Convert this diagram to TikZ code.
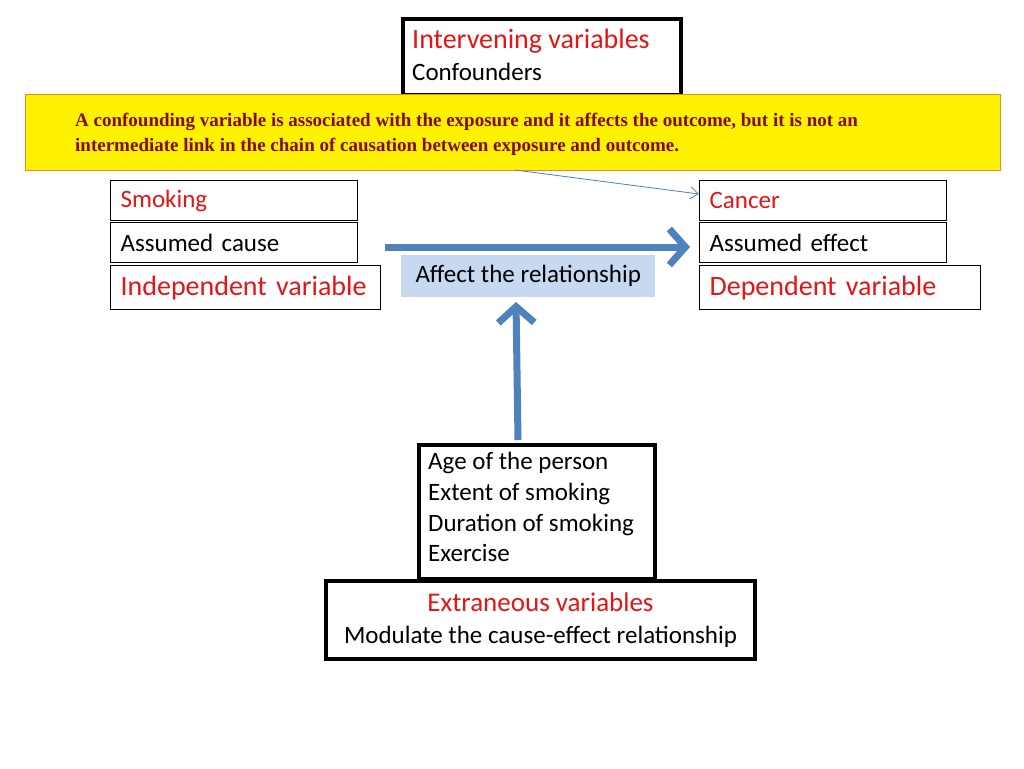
\documentclass[tikz,border=0pt]{standalone}
\usepackage{fontspec}
\setmainfont{Carlito}
\newfontfamily\serifb{Liberation Serif}
\usetikzlibrary{arrows.meta}
\definecolor{myred}{RGB}{230,20,20}
\definecolor{myblue}{RGB}{79,129,189}
\definecolor{lightblue}{RGB}{198,217,241}
\definecolor{darkred}{RGB}{130,10,10}
\tikzset{
 thinbox/.style={draw=black,line width=1.2pt,minimum height=40pt,inner sep=0pt,text width=#1-20pt,align=left,minimum width=#1,anchor=north west,font=\fontsize{25}{28}\selectfont},
 thickbox/.style={draw=black,line width=4pt},
 bigarrow/.style={myblue,line width=7pt,-{Straight Barb[length=16pt,width=36pt,line width=7pt]}},
}
\begin{document}
\begin{tikzpicture}[x=1pt,y=-1pt]
\useasboundingbox[fill=white] (0,0) rectangle (1024,768);
% top box
\node[thickbox,minimum width=278pt,minimum height=76pt,anchor=north west] (top) at (401,17) {};
\node[anchor=west,text=myred,font=\fontsize{28}{30}\selectfont,inner sep=0pt] (iv) at (412,41) {Intervening variables};
\node[anchor=west,font=\fontsize{25}{28}\selectfont,inner sep=0pt] (conf) at (412,72) {Confounders};
% banner
\node[draw={rgb,255:red,230;green,140;blue,40},line width=1pt,fill=yellow,minimum width=975pt,minimum height=76pt,anchor=north west] (banner) at (25,94) {};
\node[anchor=north west,text=darkred,font=\serifb\bfseries\fontsize{19}{25}\selectfont,align=left,inner sep=0pt] (btxt) at (75,113) {A confounding variable is associated with the exposure and it affects the outcome, but it is not an\\intermediate link in the chain of causation between exposure and outcome.};
% left boxes
\node[thinbox=247pt] (smk) at (110,180) {\textcolor{myred}{Smoking}};
\node[thinbox=247pt] (ac) at (110,222) {Assumed cause};
\node[thinbox=270pt,minimum height=44pt,font=\fontsize{28}{30}\selectfont] (indep) at (110,265) {\textcolor{myred}{Independent variable}};
% right boxes
\node[thinbox=247pt] (cancer) at (699,180) {\textcolor{myred}{Cancer}};
\node[thinbox=247pt] (ae) at (699,222) {Assumed effect};
\node[thinbox=281pt,minimum height=44pt,font=\fontsize{28}{30}\selectfont] (dep) at (699,265) {\textcolor{myred}{Dependent variable}};
% affect
\node[fill=lightblue,minimum width=254pt,minimum height=42pt,anchor=north west,font=\fontsize{25}{28}\selectfont] (aff) at (401,255) {Affect the relationship};
% lower boxes
\node[thickbox,minimum width=236pt,minimum height=134pt,anchor=north west] (fac) at (417,443) {};
\node[anchor=north west,align=left,inner sep=0pt,font=\fontsize{25}{30.8}\selectfont] (factxt) at (428,452) {Age of the person\\Extent of smoking\\Duration of smoking\\Exercise};
\node[thickbox,minimum width=429pt,minimum height=78pt,anchor=north west,fill=white] (ext) at (324,579) {};
\node[align=center,inner sep=0pt,font=\fontsize{25}{32}\selectfont] (exttxt) at (ext.center) {\textcolor{myred}{\fontsize{27}{32}\selectfont Extraneous variables}\\Modulate the cause-effect relationship};
% arrows
\coordinate (a1) at (385,247);
\coordinate (a2) at (690,247);
\draw[bigarrow] (a1) -- (a2);
\coordinate (b1) at (518,440);
\coordinate (b2) at (516,302);
\draw[bigarrow] (b1) -- (b2);
\coordinate (t1) at (515,170);
\draw[myblue,line width=0.8pt,-{Straight Barb[length=8pt,width=12pt]}] (t1) -- (cancer.north west |- 0,194) ;
\end{tikzpicture}
\end{document}
